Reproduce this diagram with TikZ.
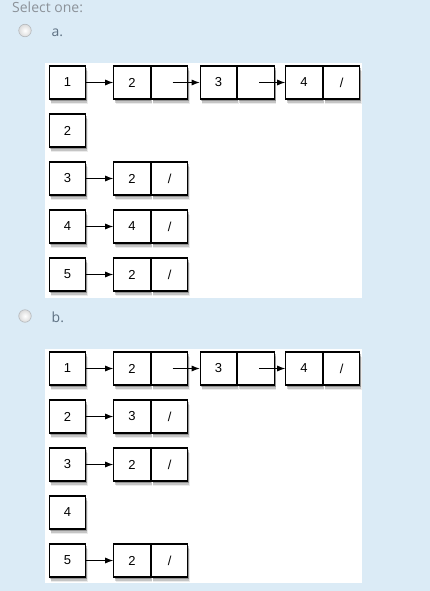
\documentclass[tikz,border=0pt]{standalone}
\usepackage{fontspec}
\setmainfont{Open Sans}
\newfontfamily\cellfont{Liberation Sans}
\usetikzlibrary{shadows,arrows.meta}

\definecolor{pagebg}{HTML}{DBEBF6}
\definecolor{hintgray}{HTML}{8C9299}
\definecolor{labelgray}{HTML}{5E7183}
\definecolor{radioedge}{HTML}{B4B8BC}

\tikzset{
  cell/.style={draw, line width=1.1pt, fill=white, inner sep=0pt,
    minimum width=36.5pt, minimum height=33pt,
    font=\fontsize{13}{15}\selectfont\cellfont,
    general shadow={shadow xshift=1.8pt, shadow yshift=-5pt,
      fill=black, opacity=.08},
    general shadow={shadow xshift=1.5pt, shadow yshift=-3.6pt,
      fill=black, opacity=.16},
    general shadow={shadow xshift=1.2pt, shadow yshift=-2.2pt,
      fill=black, opacity=.25}},
  link/.style={-{Latex[length=8pt,width=6pt]}, line width=0.9pt},
  radio/.style={circle, draw=radioedge, line width=0.6pt, minimum size=12.5pt,
    inner sep=0pt, inner color=white, outer color=black!14},
}

\begin{document}
\begin{tikzpicture}[x=1pt,y=-1pt]
  \useasboundingbox (0,0) rectangle (430,591);
  \fill[pagebg] (0,0) rectangle (430,591);

  % question text and choices
  \node[anchor=base west, inner sep=0pt, text=hintgray,
    font=\fontsize{14}{16}\selectfont] (prompt) at (12,12.3) {Select one:};
  \node[radio] (radio-a) at (25,30.5) {};
  \node[anchor=base west, inner sep=0pt, text=labelgray,
    font=\fontsize{14}{16}\selectfont] (label-a) at (51.5,36.7) {a.};
  \node[radio] (radio-b) at (25,316) {};
  \node[anchor=base west, inner sep=0pt, text=labelgray,
    font=\fontsize{14}{16}\selectfont] (label-b) at (51.5,322.2) {b.};

  % answer a
  \fill[white] (45,63) rectangle (362,298);
  \foreach \i in {1,...,5}
    \node[cell] (a\i) at (67.5,34.5+48*\i) {\i};
  \node[cell] (a1v1) at (132,82.5) {2};
  \node[cell] (a1p1) at (a1v1.east) [anchor=west] {};
  \node[cell] (a1v2) at (218.5,82.5) {3};
  \node[cell] (a1p2) at (a1v2.east) [anchor=west] {};
  \node[cell] (a1v3) at (304,82.5) {4};
  \node[cell] (a1p3) at (a1v3.east) [anchor=west] {/};
  \node[cell] (a3v1) at (132,178.5) {2};
  \node[cell] (a3p1) at (a3v1.east) [anchor=west] {/};
  \node[cell] (a4v1) at (132,226.5) {4};
  \node[cell] (a4p1) at (a4v1.east) [anchor=west] {/};
  \node[cell] (a5v1) at (132,274.5) {2};
  \node[cell] (a5p1) at (a5v1.east) [anchor=west] {/};

  \draw[link] (a1) -- (a1v1);
  \draw[link] ([xshift=3pt]a1p1.center) -- (a1v2);
  \draw[link] ([xshift=3pt]a1p2.center) -- (a1v3);
  \draw[link] (a3) -- (a3v1);
  \draw[link] (a4) -- (a4v1);
  \draw[link] (a5) -- (a5v1);

  % answer b
  \fill[white] (45,349) rectangle (362,583);
  \foreach \i in {1,...,5}
    \node[cell] (b\i) at (67.5,320.5+48*\i) {\i};
  \node[cell] (b1v1) at (132,368.5) {2};
  \node[cell] (b1p1) at (b1v1.east) [anchor=west] {};
  \node[cell] (b1v2) at (218.5,368.5) {3};
  \node[cell] (b1p2) at (b1v2.east) [anchor=west] {};
  \node[cell] (b1v3) at (304,368.5) {4};
  \node[cell] (b1p3) at (b1v3.east) [anchor=west] {/};
  \node[cell] (b2v1) at (132,416.5) {3};
  \node[cell] (b2p1) at (b2v1.east) [anchor=west] {/};
  \node[cell] (b3v1) at (132,464.5) {2};
  \node[cell] (b3p1) at (b3v1.east) [anchor=west] {/};
  \node[cell] (b5v1) at (132,560.5) {2};
  \node[cell] (b5p1) at (b5v1.east) [anchor=west] {/};

  \draw[link] (b1) -- (b1v1);
  \draw[link] ([xshift=3pt]b1p1.center) -- (b1v2);
  \draw[link] ([xshift=3pt]b1p2.center) -- (b1v3);
  \draw[link] (b2) -- (b2v1);
  \draw[link] (b3) -- (b3v1);
  \draw[link] (b5) -- (b5v1);
\end{tikzpicture}
\end{document}
